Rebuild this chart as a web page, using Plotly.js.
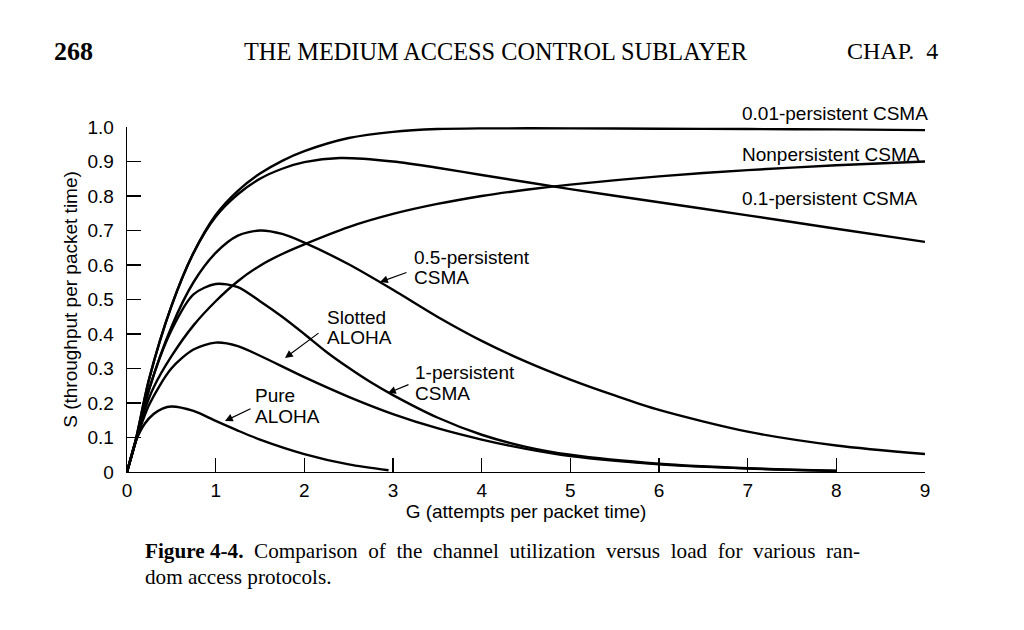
<!DOCTYPE html>
<html><head><meta charset="utf-8">
<script src="https://cdn.plot.ly/plotly-3.0.1.min.js"></script>
<style>html,body{margin:0;padding:0;background:#fff}#chart{width:1024px;height:630px}</style>
</head><body><div id="chart"></div>
<script>
// ---- data ----
const xTickVals = [0,1,2,3,4,5,6,7,8,9];
const xTickText = ['0','1','2','3','4','5','6','7','8','9'];
const yTickVals = [0,0.1,0.2,0.3,0.4,0.5,0.6,0.7,0.8,0.9,1.0];
const yTickText = ['0','0.1','0.2','0.3','0.4','0.5','0.6','0.7','0.8','0.9','1.0'];

const G_p001 = [0,0.1,0.25,0.5,0.75,1,1.25,1.5,1.75,2,2.5,3,3.5,4,5,6,7,8,9];
const S_p001 = [0,0.095,0.27,0.48,0.635,0.745,0.815,0.865,0.902,0.93,0.968,0.986,0.994,0.996,0.996,0.995,0.994,0.993,0.991];

const G_p01 = [0,0.1,0.25,0.5,0.75,1,1.25,1.5,1.75,2,2.4,3,3.5,4,5,6,7,8,9];
const S_p01 = [0,0.095,0.27,0.48,0.635,0.74,0.805,0.85,0.879,0.898,0.91,0.9,0.882,0.861,0.82,0.782,0.744,0.705,0.667];

const G_nonp = [0,0.1,0.2,0.3,0.5,0.75,1,1.25,1.5,1.75,2,2.5,3,3.5,4,4.5,5,6,7,8,9];
const S_nonp = [0,0.09,0.18,0.245,0.335,0.425,0.495,0.553,0.598,0.632,0.66,0.71,0.748,0.777,0.8,0.818,0.833,0.857,0.875,0.889,0.9];

const G_p05 = [0,0.1,0.25,0.5,0.75,1,1.25,1.5,1.75,2,2.5,3,3.5,4,4.5,5,5.5,6,7,8,9];
const S_p05 = [0,0.092,0.24,0.42,0.55,0.635,0.685,0.70,0.69,0.665,0.602,0.528,0.45,0.38,0.32,0.268,0.222,0.18,0.117,0.077,0.052];

const G_p1 = [0,0.1,0.25,0.5,0.75,1,1.25,1.5,1.75,2,2.25,2.5,2.75,3,3.5,4,4.5,5,6,7,8];
const S_p1 = [0,0.09,0.24,0.41,0.515,0.545,0.536,0.495,0.45,0.4,0.348,0.302,0.26,0.223,0.158,0.108,0.073,0.05,0.024,0.011,0.004];

const G_slot = [0,0.1,0.25,0.5,0.75,1,1.25,1.5,2,2.5,3,3.5,4,4.5,5,6,7,8];
const S_slot = [0,0.09,0.195,0.3,0.355,0.375,0.365,0.337,0.275,0.218,0.168,0.127,0.094,0.067,0.046,0.022,0.01,0.003];

const G_pure = [0,0.1,0.2,0.3,0.4,0.5,0.75,1,1.25,1.5,2,2.5,2.95];
const S_pure = [0,0.09,0.14,0.168,0.184,0.19,0.177,0.148,0.12,0.094,0.052,0.022,0.005];

const curveLabelLines = ['0.01-persistent CSMA','Nonpersistent CSMA','0.1-persistent CSMA',
  '0.5-persistent','CSMA','Slotted','ALOHA','1-persistent','CSMA','Pure','ALOHA'];
const headerPage = '268';
const headerTitle = 'THE MEDIUM ACCESS CONTROL SUBLAYER';
const headerChap = 'CHAP.&nbsp;&nbsp;4';
const captionLines = ['<b>Figure 4-4.</b>&nbsp;&nbsp;Comparison of the channel utilization versus load for various ran-',
  'dom access protocols.'];
const xTitle = 'G (attempts per packet time)';
const yTitle = 'S (throughput per packet time)';

// ---- layout / styling ----
const L = 127, R = 925, T = 127, B = 472;
const pxX = x => (x - L) / (R - L);
const pxY = y => (B - y) / (B - T);
const SANS = 'Liberation Sans, Arial, Helvetica, sans-serif';
const SERIF = 'Liberation Serif, Times New Roman, serif';
const justify = s => s.replace(/ /g, '&nbsp; ');

const lineStyle = {color:'#000', width:2.4, shape:'spline', smoothing:0.8};
const series = [[G_p001,S_p001],[G_p01,S_p01],[G_nonp,S_nonp],[G_p05,S_p05],[G_p1,S_p1],[G_slot,S_slot],[G_pure,S_pure]];
const traces = series.map(s => ({x:s[0], y:s[1], type:'scatter', mode:'lines', line:lineStyle, hoverinfo:'skip', showlegend:false}));

// label positions (left x, center y in page pixels)
const labelPos = [[740,114],[740,154],[740,198],[412,257],[412,277],[325,317],[325,337],[413,372],[413,393],[253,395],[253,416]];
const annotations = curveLabelLines.map((t,i) => ({
  text:t, xref:'paper', yref:'paper', x:pxX(labelPos[i][0]), y:pxY(labelPos[i][1]),
  xanchor:'left', yanchor:'middle', showarrow:false, font:{family:SANS, size:19, color:'#000'}
}));
// arrows: [tailX, tailY, tipX, tipY] in page pixels
const arrows = [[408,272,380,282],[320,332,285,358],[410,384,388,393],[252,408,225,421]];
arrows.forEach(a => annotations.push({
  text:'', xref:'paper', yref:'paper', x:pxX(a[2]), y:pxY(a[3]), ax:a[0]-a[2], ay:a[1]-a[3],
  showarrow:true, arrowhead:2, arrowsize:1.3, arrowwidth:1.2, arrowcolor:'#000', standoff:0
}));
// header and caption
annotations.push({text:'<b>'+headerPage+'</b>', xref:'paper', yref:'paper', x:pxX(52), y:pxY(51), xanchor:'left', yanchor:'middle', showarrow:false, font:{family:SERIF, size:26, color:'#000'}});
annotations.push({text:headerTitle, xref:'paper', yref:'paper', x:pxX(242), y:pxY(51), xanchor:'left', yanchor:'middle', showarrow:false, font:{family:SERIF, size:24.3, color:'#000'}});
annotations.push({text:headerChap, xref:'paper', yref:'paper', x:pxX(940), y:pxY(51), xanchor:'right', yanchor:'middle', showarrow:false, font:{family:SERIF, size:24, color:'#000'}});
annotations.push({text:justify(captionLines[0]).replace('<b>Figure&nbsp; 4-4.</b>','<b>Figure 4-4.</b>'), xref:'paper', yref:'paper', x:pxX(143), y:pxY(551), xanchor:'left', yanchor:'middle', showarrow:false, font:{family:SERIF, size:21.2, color:'#000'}});
annotations.push({text:captionLines[1], xref:'paper', yref:'paper', x:pxX(143), y:pxY(577), xanchor:'left', yanchor:'middle', showarrow:false, font:{family:SERIF, size:21.2, color:'#000'}});

const axisCommon = {
  showline:true, linecolor:'#000', linewidth:1.3, showgrid:false, zeroline:false,
  ticks:'inside', ticklen:14, tickwidth:1.2, tickcolor:'#000',
  tickfont:{family:SANS, size:19, color:'#000'}, fixedrange:true, automargin:false
};
const layout = {
  width:1024, height:630, margin:{l:L, r:1024-R, t:T, b:630-B},
  paper_bgcolor:'#fff', plot_bgcolor:'#fff', showlegend:false,
  xaxis: Object.assign({}, axisCommon, {range:[0,9], tickmode:'array', tickvals:xTickVals, ticktext:xTickText,
    ticklabelstandoff:1, title:{text:xTitle, font:{family:SANS, size:19, color:'#000'}, standoff:1}}),
  yaxis: Object.assign({}, axisCommon, {range:[0,1], tickmode:'array', tickvals:yTickVals, ticktext:yTickText,
    ticklabelstandoff:8, title:{text:yTitle, font:{family:SANS, size:19, color:'#000'}, standoff:4}}),
  annotations: annotations
};
Plotly.newPlot('chart', traces, layout, {displayModeBar:false, staticPlot:true});
</script>
</body></html>
